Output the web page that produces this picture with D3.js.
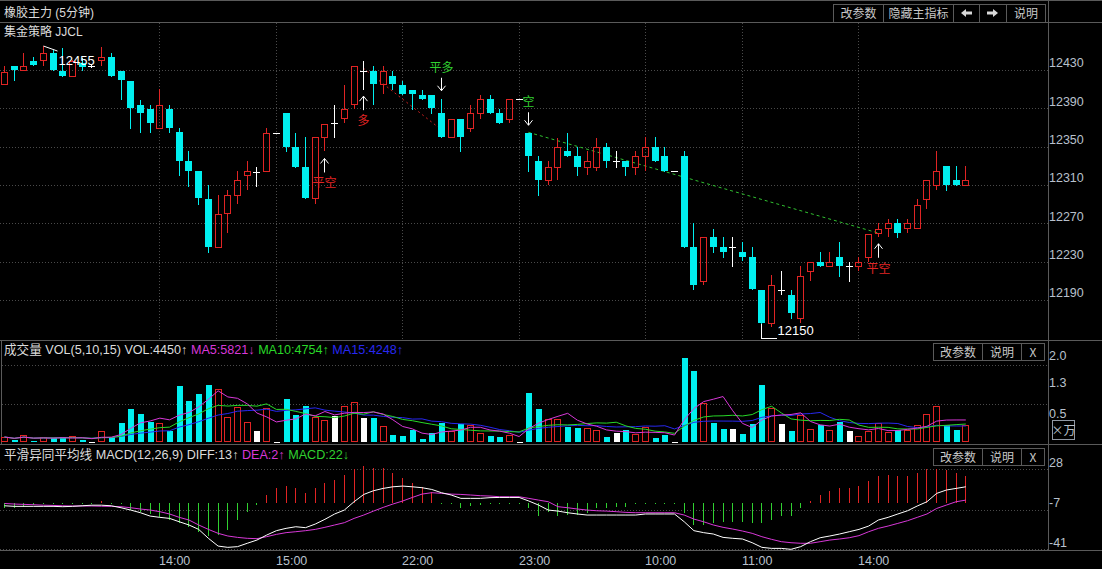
<!DOCTYPE html>
<html>
<head>
<meta charset="utf-8">
<script src="https://cdn.jsdelivr.net/npm/d3@7"></script>
<style>
  body { margin: 0; background: #000; }
  svg { display: block; font-family: "Noto Sans CJK SC", "Liberation Sans", sans-serif; }
</style>
</head>
<body>
<svg id="chart" width="1102" height="569"></svg>
<script>
// 5-minute bars, rubber main contract
const opens  = [12415,12434,12430,12439,12440,12448,12429,12424,12437,12434,12440,12444,12429,12419,12394,12389,12370,12389,12365,12335,
                12325,12295,12245,12281,12300,12320,12324,12325,12364,12385,12350,12329,12296,12360,12375,12380,12395,12429,12429,12415,
                12424,12414,12409,12404,12404,12385,12360,12379,12370,12385,12400,12385,12379,12400,12364,12335,12315,12329,12345,12340,
                12329,12329,12350,12335,12335,12329,12340,12350,12340,12325,12340,12245,12210,12256,12245,12245,12240,12235,12200,12166,
                12200,12195,12171,12220,12230,12226,12235,12226,12226,12235,12260,12265,12270,12265,12265,12295,12310,12330,12315,12310];
const highs  = [12434,12434,12448,12444,12455,12451,12453,12440,12443,12435,12454,12448,12429,12419,12399,12394,12410,12394,12369,12345,
                12325,12310,12300,12305,12325,12335,12329,12369,12364,12385,12364,12360,12360,12374,12394,12414,12434,12439,12434,12434,
                12429,12419,12409,12409,12404,12400,12379,12379,12394,12404,12404,12389,12400,12400,12364,12340,12335,12359,12364,12350,
                12345,12359,12354,12345,12335,12345,12360,12360,12350,12325,12345,12270,12256,12264,12256,12256,12251,12245,12200,12216,
                12220,12200,12226,12230,12240,12240,12251,12230,12235,12259,12270,12275,12275,12275,12295,12315,12345,12330,12330,12330];
const lows   = [12415,12420,12430,12435,12434,12430,12424,12423,12430,12433,12434,12424,12400,12370,12365,12365,12370,12365,12320,12309,
                12290,12240,12245,12260,12290,12305,12309,12325,12364,12345,12329,12296,12290,12345,12360,12375,12389,12410,12395,12405,
                12410,12405,12389,12400,12385,12360,12360,12345,12365,12379,12385,12375,12375,12400,12325,12300,12310,12315,12340,12320,
                12320,12325,12329,12329,12320,12320,12325,12335,12325,12325,12245,12201,12206,12240,12235,12226,12232,12201,12150,12162,
                12196,12171,12166,12210,12226,12226,12215,12210,12220,12230,12256,12256,12256,12260,12265,12285,12305,12305,12310,12310];
const closes = [12428,12430,12434,12435,12448,12430,12424,12439,12433,12434,12444,12424,12420,12390,12385,12375,12394,12370,12335,12325,
                12296,12245,12280,12300,12315,12325,12324,12364,12364,12350,12329,12296,12360,12374,12375,12389,12434,12429,12415,12429,
                12415,12405,12405,12400,12390,12360,12379,12360,12385,12400,12385,12375,12400,12400,12340,12315,12329,12350,12340,12329,
                12335,12350,12335,12335,12329,12340,12350,12335,12325,12325,12245,12206,12256,12245,12240,12245,12235,12201,12166,12206,
                12200,12176,12215,12230,12226,12230,12226,12226,12230,12259,12264,12270,12260,12270,12289,12315,12325,12310,12310,12315];
const volumes = [1400,700,2000,300,1400,1130,1300,1550,700,150,2900,1400,5080,8600,7260,5340,5080,2900,14560,10790,
                 12540,14900,13850,6660,9030,5340,3060,8850,150,11220,7100,9300,6580,5700,6840,9300,10340,6400,6400,4200,
                 1840,1750,3300,880,2450,5080,2900,4640,4470,2450,1580,1400,2000,150,12700,8600,6140,6130,4030,3760,
                 3760,3160,1400,2450,3160,2180,4030,1130,2000,150,21930,18500,10160,5080,3580,3580,2180,4820,14740,8770,
                 4820,2900,7000,3580,4370,3300,5340,3050,1600,2900,5080,2630,3100,3200,4470,7450,9290,4470,3320,4450];
const diffValues = [-3.5,-4,-4,-4,-4,-4,-4.3,-4,-3.5,-3,-3,-3.5,-5.2,-7.2,-9.5,-12.4,-13.5,-14.4,-17.3,-20.1,
                    -23.9,-31.6,-38.3,-39.4,-38.8,-35.9,-33.1,-28.8,-25,-23,-21.6,-22.4,-19.3,-15.2,-10.6,-7.2,0,6.3,9.5,11.5,
                    12.9,13.5,12.9,12.1,10.6,7.8,5.8,2.9,2.9,2.9,3.5,3.7,3.7,3.7,0.6,-2.9,-7.2,-8.1,-9.5,-10.6,
                    -11.5,-11.5,-11.5,-11.5,-11.5,-11.5,-10.6,-10.6,-10.6,-10.6,-17.3,-25,-26.7,-27.9,-30.8,-31.6,-32.2,-35.4,-39.4,-40.3,
                    -40.3,-41.1,-38.8,-34.5,-31.1,-29.6,-27.9,-25.9,-23.9,-21,-15.8,-13.5,-10.6,-7.8,-3.7,0,7.2,10.1,11.5,12.9];
const deaValues  = [-1.5,-2,-2.3,-2.6,-3,-3.2,-3.5,-3.7,-3.7,-3.7,-3.9,-4,-4.3,-5.2,-6.3,-7.2,-8.6,-10.6,-13.5,-15.8,
                    -20.1,-23.9,-27.3,-29.6,-30.8,-31.6,-31.9,-30.2,-28.2,-26.7,-25.9,-25,-23.9,-22.1,-20.1,-18.1,-14.4,-11.5,-8.1,-4.9,
                    -2,0.6,3.7,6.6,7.8,7.2,6.6,6.3,5.8,5.2,4.9,4.3,4.3,4.3,2.9,1.4,0,-4.3,-5.2,-6.3,
                    -7.2,-7.8,-8.1,-8.6,-9.2,-9.5,-9.5,-9.5,-9.5,-9.5,-11.5,-15,-17.3,-20.1,-22.1,-23.6,-25.3,-27.3,-30.2,-32.5,
                    -34.5,-35.4,-35.9,-35.9,-34.5,-33.1,-32.2,-31.1,-29.3,-25.9,-23,-21,-18.7,-16.4,-13.5,-10.6,-5.8,-2.9,0,1.4];
const macdBars   = [-5.8,-5.8,-4.3,-2.9,-0.5,-0.5,-0.5,-0.5,-0.5,-0.5,1,-0.5,-0.5,-7.2,-8.6,-10.6,-12.9,-15.8,-18.7,-22.1,
                    -25.9,-29.3,-28.8,-24.4,-15.8,-8.6,-2.9,5.8,12.1,13.5,12.1,7.2,12.1,16.4,18.7,23,27.9,31.1,28.8,28.8,
                    25,20.1,15.8,12.4,8.6,-0.5,-0.5,-5.8,-3.7,-2.9,-0.5,-0.5,-0.5,-0.5,-5.8,-12.4,-8.6,-12.4,-11.5,-11.5,
                    -9.5,-5.8,-5.2,-4.3,-4.3,-0.5,-0.5,-0.5,-0.5,-0.5,-10.1,-20.1,-20.1,-18.7,-17.3,-17.3,-17.3,-18.7,-18.7,-15.8,
                    -12.4,-12.4,-5.8,0.5,5.8,9.5,11.5,12.1,13.8,18.1,22.1,23,22.1,22.1,24.4,27.9,27.9,27.3,25,22.1];

const priceTicks = [12430, 12390, 12350, 12310, 12270, 12230, 12190];
const volTickLabels = ["2.0", "1.3", "0.5"];
const volTickValues = [20000, 13000, 5000];
const volGridValues = [20000, 10000];
const macdTicks = [28, -7, -41];
const timeLabels = ["14:00", "15:00", "22:00", "23:00", "10:00", "11:00", "14:00"];
const timeIndex  = [16, 28, 41, 53, 66, 76, 88];

// strategy signals (JJCL)
const signals = [
  { i: 33, dir: "up",   text: "平空", kind: "red" },
  { i: 37, dir: "up",   text: "多",   kind: "red" },
  { i: 45, dir: "down", text: "平多", kind: "green" },
  { i: 54, dir: "down", text: "空",   kind: "green" },
  { i: 90, dir: "up",   text: "平空", kind: "red" }
];
const tradeLines = [
  { from: [37, 12432], to: [45, 12368], kind: "red" },
  { from: [54, 12365], to: [90, 12260], kind: "green" }
];

const RED = "#e02424", CYAN = "#00f0f0", WHITE = "#ffffff", GREEN = "#30d030";
const GRID = "#4a4a4a", FRAME = "#5a5a5a", LABEL = "#b8c0cc";
const axisX = 1048;

const svg = d3.select("#chart");
svg.append("rect").attr("width", 1102).attr("height", 569).attr("fill", "#000");

const x = d3.scaleLinear().domain([0, 99]).range([4, 965.3]);
const y = d3.scaleLinear().domain([12190, 12430]).range([300, 70]);
const yVol = d3.scaleLinear().domain([0, 20000]).range([442.4, 365]);
const yMacd = d3.scaleLinear().domain([-41, 28]).range([549.2, 469.3]);
const px = i => Math.round(x(i));

const kindOf = i => closes[i] > opens[i] ? "up" : (closes[i] < opens[i] ? "down" : "flat");
const colorOf = i => ({ up: RED, down: CYAN, flat: WHITE })[kindOf(i)];

// ---------- frames ----------
const frame = svg.append("g").attr("stroke", FRAME).attr("shape-rendering", "crispEdges");
[0.5, 22.5, 340.5, 444.5, 550.5].forEach(v =>
  frame.append("line").attr("x1", 0).attr("x2", 1102).attr("y1", v).attr("y2", v));
frame.append("line").attr("x1", axisX + 0.5).attr("x2", axisX + 0.5).attr("y1", 0).attr("y2", 551);
frame.append("line").attr("x1", 1.5).attr("x2", 1.5).attr("y1", 340).attr("y2", 445);

// ---------- grids ----------
const grid = svg.append("g").attr("stroke", GRID).attr("stroke-dasharray", "1,2").attr("shape-rendering", "crispEdges");
priceTicks.forEach(p => grid.append("line").attr("x1", 0).attr("x2", axisX)
  .attr("y1", Math.round(y(p)) + 0.5).attr("y2", Math.round(y(p)) + 0.5));
timeIndex.forEach(i => grid.append("line").attr("x1", px(i) + 0.5).attr("x2", px(i) + 0.5)
  .attr("y1", 23).attr("y2", 340));
volGridValues.forEach(v => grid.append("line").attr("x1", 2).attr("x2", axisX)
  .attr("y1", Math.round(yVol(v)) + 0.5).attr("y2", Math.round(yVol(v)) + 0.5));
macdTicks.forEach(v => grid.append("line").attr("x1", 0).attr("x2", axisX)
  .attr("y1", Math.round(yMacd(v)) + 0.5).attr("y2", Math.round(yMacd(v)) + 0.5));

// ---------- trade lines ----------
tradeLines.forEach(t => {
  svg.append("line")
    .attr("x1", x(t.from[0])).attr("y1", y(t.from[1]))
    .attr("x2", x(t.to[0])).attr("y2", y(t.to[1]))
    .attr("stroke", t.kind === "red" ? "#c82020" : "#30c030")
    .attr("stroke-width", 1)
    .attr("stroke-dasharray", t.kind === "red" ? "2,3" : "3,3");
});

// ---------- candles ----------
const idx = d3.range(opens.length);
const candles = svg.append("g").attr("shape-rendering", "crispEdges");
idx.forEach(i => {
  const xi = px(i), c = colorOf(i), k = kindOf(i);
  const top = Math.round(y(Math.max(opens[i], closes[i])));
  const bot = Math.round(y(Math.min(opens[i], closes[i])));
  const hi = Math.round(y(highs[i])), lo = Math.round(y(lows[i]));
  if (k === "up") {
    if (hi < top) candles.append("line").attr("x1", xi + 0.5).attr("x2", xi + 0.5).attr("y1", hi).attr("y2", top).attr("stroke", c);
    if (lo > bot) candles.append("line").attr("x1", xi + 0.5).attr("x2", xi + 0.5).attr("y1", bot).attr("y2", lo).attr("stroke", c);
    candles.append("rect").attr("x", xi - 2.5).attr("y", top + 0.5).attr("width", 6).attr("height", Math.max(1, bot - top))
      .attr("fill", "none").attr("stroke", c);
  } else {
    candles.append("line").attr("x1", xi + 0.5).attr("x2", xi + 0.5).attr("y1", hi).attr("y2", lo + 1).attr("stroke", c);
    if (k === "down") {
      candles.append("rect").attr("x", xi - 3).attr("y", top).attr("width", 7).attr("height", Math.max(1, bot - top)).attr("fill", c);
    } else {
      candles.append("line").attr("x1", xi - 3).attr("x2", xi + 4).attr("y1", top + 0.5).attr("y2", top + 0.5).attr("stroke", c);
    }
  }
});

// ---------- high / low marks ----------
const hiIdx = d3.maxIndex(highs), loIdx = d3.minIndex(lows);
const hx = px(hiIdx) + 0.5, hy = y(highs[hiIdx]);
svg.append("line").attr("x1", hx).attr("y1", hy).attr("x2", hx + 14).attr("y2", hy + 5).attr("stroke", WHITE);
svg.append("text").attr("x", hx + 15).attr("y", hy + 19).attr("fill", WHITE)
  .style("font-family", "Liberation Sans").style("font-size", "13px").text(highs[hiIdx]);
const lx = px(loIdx) + 0.5, ly = Math.round(y(lows[loIdx])) + 0.5;
svg.append("path").attr("d", `M${lx},${ly - 15}V${ly}H${lx + 15}`).attr("fill", "none").attr("stroke", WHITE)
  .attr("shape-rendering", "crispEdges");
svg.append("text").attr("x", lx + 16).attr("y", ly - 4).attr("fill", WHITE)
  .style("font-family", "Liberation Sans").style("font-size", "13px").text(lows[loIdx]);

// ---------- signals ----------
signals.forEach(s => {
  const xs = px(s.i) + 0.5;
  const col = s.kind === "red" ? RED : GREEN;
  let a0, a1, ty, head;
  if (s.dir === "up") {
    const base = y(lows[s.i]);
    a0 = base + 7; a1 = base + 21; ty = base + 36;
    head = `M${xs - 4},${a0 + 5}L${xs},${a0}L${xs + 4},${a0 + 5}`;
  } else {
    const base = y(highs[s.i]);
    a0 = base - 21; a1 = base - 8; ty = base - 27;
    head = `M${xs - 4},${a1 - 5}L${xs},${a1}L${xs + 4},${a1 - 5}`;
  }
  svg.append("line").attr("x1", xs).attr("x2", xs).attr("y1", a0).attr("y2", a1).attr("stroke", WHITE);
  svg.append("path").attr("d", head).attr("fill", "none").attr("stroke", WHITE);
  svg.append("text").attr("x", xs).attr("y", ty).attr("text-anchor", "middle").attr("fill", col)
    .style("font-size", "12px").text(s.text);
});

// ---------- volume ----------
const vols = svg.append("g").attr("shape-rendering", "crispEdges");
idx.forEach(i => {
  const xi = px(i), c = colorOf(i);
  const top = Math.round(yVol(volumes[i])), bot = Math.round(yVol(0));
  if (kindOf(i) === "up") {
    vols.append("rect").attr("x", xi - 2.5).attr("y", top + 0.5).attr("width", 6).attr("height", Math.max(1, bot - top - 1))
      .attr("fill", "none").attr("stroke", c);
  } else {
    vols.append("rect").attr("x", xi - 2).attr("y", top).attr("width", 6).attr("height", Math.max(1, bot - top)).attr("fill", c);
  }
});
const rolling = n => idx.map(i => d3.mean(volumes.slice(Math.max(0, i - n + 1), i + 1)));
[[5, "#d838d8"], [10, "#28d828"], [15, "#2828f0"]].reverse().forEach(([n, col]) => {
  const ma = rolling(n);
  svg.append("path").datum(idx)
    .attr("d", d3.line().x(i => x(i) + 0.5).y(i => yVol(ma[i])))
    .attr("fill", "none").attr("stroke", col).attr("stroke-width", 1);
});

// ---------- MACD ----------
const macdG = svg.append("g").attr("shape-rendering", "crispEdges");
const zeroY = Math.round(yMacd(0)) + 0.5;
idx.forEach(i => {
  const v = macdBars[i];
  let yy = yMacd(v);
  if (Math.abs(yy - zeroY) < 1.5) yy = zeroY + (v > 0 ? -1.5 : 1.5);
  macdG.append("line").attr("x1", px(i) + 0.5).attr("x2", px(i) + 0.5)
    .attr("y1", zeroY).attr("y2", yy).attr("stroke", v > 0 ? RED : GREEN);
});
const macdLine = vals => d3.line().x(i => x(i) + 0.5).y(i => yMacd(vals[i]));
svg.append("path").datum(idx).attr("d", macdLine(deaValues)).attr("fill", "none").attr("stroke", "#d838d8");
svg.append("path").datum(idx).attr("d", macdLine(diffValues)).attr("fill", "none").attr("stroke", WHITE);

// ---------- axes labels ----------
const axisFont = g => g.style("font-family", "Liberation Sans").style("font-size", "12.5px").attr("fill", LABEL);
priceTicks.forEach(p => svg.append("text").attr("x", axisX + 1).attr("y", y(p) - 7).attr("dy", "0.35em")
  .call(axisFont).text(p));
volTickValues.forEach((v, k) => svg.append("text").attr("x", axisX + 1).attr("y", yVol(v) - 9).attr("dy", "0.35em")
  .call(axisFont).text(volTickLabels[k]));
macdTicks.forEach(v => svg.append("text").attr("x", axisX + 1).attr("y", yMacd(v) - 7).attr("dy", "0.35em")
  .call(axisFont).text(v));
timeIndex.forEach((i, k) => svg.append("text").attr("x", px(i)).attr("y", 565)
  .call(axisFont).text(timeLabels[k]));

// x万 box
svg.append("rect").attr("x", 1052.5).attr("y", 420.5).attr("width", 22).attr("height", 19)
  .attr("fill", "none").attr("stroke", "#9098a4").attr("shape-rendering", "crispEdges");
svg.append("text").attr("x", 1063.5).attr("y", 434.5).attr("text-anchor", "middle").attr("fill", LABEL)
  .style("font-size", "12px").text("×万");

// ---------- headers ----------
const hdr = (xx, yy, fs) => svg.append("text").attr("x", xx).attr("y", yy).style("font-size", fs).attr("fill", "#dcdcdc")
  .style("font-family", "'Liberation Sans', 'Noto Sans CJK SC', sans-serif");
hdr(4, 17, "12px").text("橡胶主力 (5分钟)");
hdr(4, 36, "12px").text("集金策略 JJCL");

const volHdr = hdr(4, 354, "12.6px");
volHdr.append("tspan").text("成交量 VOL(5,10,15)  VOL:4450↑ ");
volHdr.append("tspan").attr("fill", "#d838d8").text("MA5:5821↓ ");
volHdr.append("tspan").attr("fill", "#28d828").text("MA10:4754↑ ");
volHdr.append("tspan").attr("fill", "#2828f0").text("MA15:4248↑");

const macdHdr = hdr(4, 459, "12.6px");
macdHdr.append("tspan").text("平滑异同平均线 MACD(12,26,9)  DIFF:13↑ ");
macdHdr.append("tspan").attr("fill", "#d838d8").text("DEA:2↑ ");
macdHdr.append("tspan").attr("fill", GREEN).text("MACD:22↓");

// ---------- buttons ----------
function button(x0, x1, y0, y1, label) {
  svg.append("rect").attr("x", x0 + 0.5).attr("y", y0 + 0.5).attr("width", x1 - x0).attr("height", y1 - y0)
    .attr("fill", "#000").attr("stroke", FRAME).attr("shape-rendering", "crispEdges");
  if (label) svg.append("text").attr("x", (x0 + x1) / 2 + 0.5).attr("y", (y0 + y1) / 2 + 5)
    .attr("text-anchor", "middle").attr("fill", "#c8c8c8").style("font-size", "12px").text(label);
}
button(833, 883, 4, 22, "改参数");
button(883, 953, 4, 22, "隐藏主指标");
button(953, 979, 4, 22, null);
button(979, 1006, 4, 22, null);
button(1006, 1045, 4, 22, "说明");
svg.append("path").attr("d", "M961,13l5,-4v2.5h6v3h-6v2.5z").attr("fill", "#d8d8d8");
svg.append("path").attr("d", "M998,13l-5,-4v2.5h-6v3h6v2.5z").attr("fill", "#d8d8d8");

[[343, 360], [448, 465]].forEach(([y0, y1]) => {
  button(933, 982, y0, y1, "改参数");
  button(982, 1021, y0, y1, "说明");
  button(1021, 1044, y0, y1, "X");
});
</script>
</body>
</html>
